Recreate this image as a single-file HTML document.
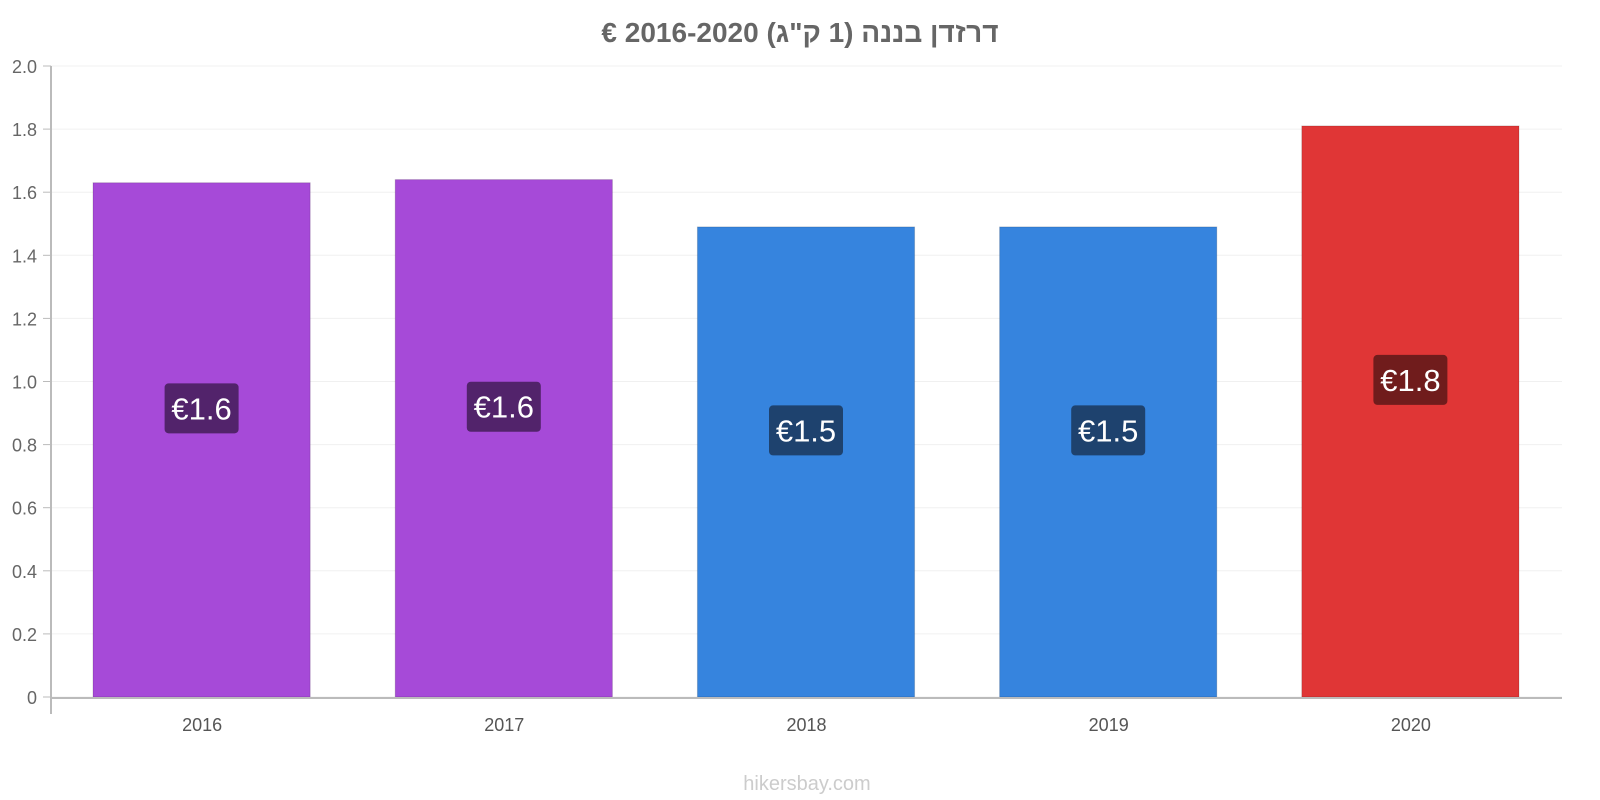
<!DOCTYPE html>
<html><head><meta charset="utf-8"><style>
html,body{margin:0;padding:0;background:#fff;overflow:hidden;width:1600px;height:800px;}
svg{display:block;font-family:"Liberation Sans",sans-serif;}
</style></head><body>
<svg id="c" width="1600" height="800" viewBox="0 0 1600 800">
<text x="800" y="42" text-anchor="middle" direction="rtl" style="direction:rtl;unicode-bidi:embed" font-size="28" font-weight="bold" fill="#666" font-family="Liberation Sans, DejaVu Sans, sans-serif">דרזדן בננה (1 ק"ג) 2016-2020 €</text>
<g id="grid"></g><g id="bars"></g><g id="axes"></g>
<text x="807" y="790" text-anchor="middle" font-size="20" fill="#ccc">hikersbay.com</text>
</svg>
<script>
const categories=["2016","2017","2018","2019","2020"];
const values=[1.63,1.64,1.49,1.49,1.81];
const labels=["€1.6","€1.6","€1.5","€1.5","€1.8"];
const colors=["#a64ad8","#a64ad8","#3684de","#3684de","#e03636"];
const labelColors=["#52236b","#52236b","#1e426e","#1e426e","#701c1c"];
const ticks=[0,0.2,0.4,0.6,0.8,1.0,1.2,1.4,1.6,1.8,2.0];
const tickLabels=["0","0.2","0.4","0.6","0.8","1.0","1.2","1.4","1.6","1.8","2.0"];
const NS="http://www.w3.org/2000/svg";
const L=51,R=1562,Y0=697,Y2=66;
const y=v=>Y0-(Y0-Y2)*v/2;
const bw=(R-L)/categories.length;
const x=i=>L+bw*i;
function mk(t,a,p){const e=document.createElementNS(NS,t);for(const k in a)e.setAttribute(k,a[k]);p.appendChild(e);return e;}
const g=document.getElementById('grid'),b=document.getElementById('bars'),ax=document.getElementById('axes');
ticks.forEach((t,i)=>{
 const ln=mk('line',{x1:L,x2:R,y1:y(t),y2:y(t),stroke:'#f0f0f0'},g);
 
 
 mk('line',{x1:L-8,x2:L,y1:y(t),y2:y(t),stroke:'#bbb'},ax);
 const tx=mk('text',{x:L-14,y:y(t)+7,'text-anchor':'end','font-size':18,fill:'#666'},ax);
 tx.textContent=tickLabels[i];
 
 
});
categories.forEach((c,i)=>{
 const x0=x(i)+42,w=bw-85;
 const r=mk('rect',{x:x0,y:y(values[i]),width:w,height:Y0-y(values[i]),fill:colors[i],stroke:'rgba(0,0,0,0.15)'},b);
 
 
 const cy=y(values[i]/2+0.1),cx=x0+w/2;
 const bx=mk('rect',{x:cx-37,y:cy-25,width:74,height:50,rx:4,fill:labelColors[i]},b);
 
 
 const t=mk('text',{x:cx,y:cy+11,'text-anchor':'middle','font-size':31,fill:'#fff'},b);
 t.textContent=labels[i];
 
 
 const xt=mk('text',{x:x(i)+bw/2,y:731,'text-anchor':'middle','font-size':18,fill:'#555'},ax);
 xt.textContent=c;
 
 
});
mk('line',{x1:L,x2:L,y1:Y2,y2:714,stroke:'#bbb','stroke-width':2},ax);
mk('line',{x1:L,x2:R,y1:Y0+1,y2:Y0+1,stroke:'#bbb','stroke-width':2},ax);
</script>
</body></html>
